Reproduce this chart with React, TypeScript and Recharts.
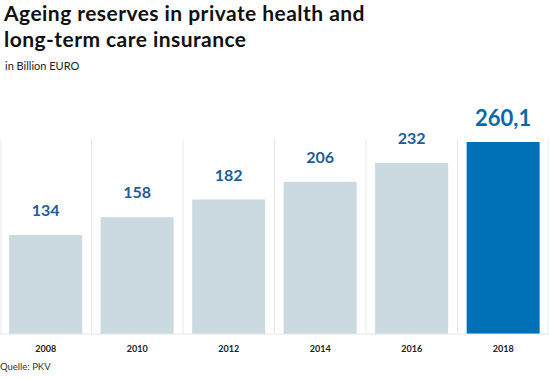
import React from 'react';
import { BarChart, Bar, XAxis, YAxis, CartesianGrid, Cell, LabelList } from 'recharts';

const years = ['2008', '2010', '2012', '2014', '2016', '2018'];
const reserves = [134, 158, 182, 206, 232, 260.1];
const highlightYear = '2018';
const titleLines = ['Ageing reserves in private health and', 'long-term care insurance'];
const subtitle = 'in Billion EURO';
const source = 'Quelle: PKV';

const data = years.map((year, i) => ({ year, value: reserves[i] }));

const W = 549;
const H = 379;
const FONT = 'Lato, "Open Sans", sans-serif';

const fmt = (v: number) => String(v).replace('.', ',');

const BarLabel = (props: any) => {
  const { x, y, width, value, index } = props;
  const isHi = data[index] && data[index].year === highlightYear;
  const fs = isHi ? 22 : 16;
  const off = isHi ? 16 : 19;
  return (
    <text
      x={x + width / 2}
      y={y - off}
      textAnchor="middle"
      fontFamily={FONT}
      fontWeight={700}
      fontSize={fs}
      fill={isHi ? '#0b68a8' : '#1f5d98'}
    >
      {fmt(value)}
    </text>
  );
};

export default function App() {
  return (
    <div style={{ position: 'absolute', left: 0, top: 0, width: W, height: H, background: '#fff', fontFamily: FONT }}>
      <div
        style={{
          position: 'absolute',
          left: 4,
          top: 0,
          fontSize: 21,
          lineHeight: '26px',
          fontWeight: 700,
          letterSpacing: 0.45,
          color: '#111',
          whiteSpace: 'nowrap',
        }}
      >
        {titleLines.map((l) => (
          <div key={l}>{l}</div>
        ))}
      </div>
      <div style={{ position: 'absolute', left: 5, top: 59, fontSize: 11, lineHeight: '14px', color: '#222' }}>
        {subtitle}
      </div>
      <div style={{ position: 'absolute', left: 0, top: 361, fontSize: 9.5, lineHeight: '12px', color: '#333' }}>
        {source}
      </div>
      <div style={{ position: 'absolute', left: 0, top: 0 }}>
        <BarChart
          width={W}
          height={H}
          data={data}
          margin={{ top: 139, right: 0, bottom: 15, left: 0 }}
          barCategoryGap="10%"
        >
          <CartesianGrid
            horizontal={false}
            stroke="#e6e9ec"
            verticalCoordinatesGenerator={({ offset }: any) =>
              years
                .map((_, i) => offset.left + (i * offset.width) / years.length)
                .concat([offset.left + offset.width - 1])
                .map((v, i) => (i === 0 ? v + 1 : v))
            }
          />
          <YAxis hide domain={[0, 264]} />
          <XAxis
            dataKey="year"
            height={30}
            axisLine={{ stroke: '#e3e6e9' }}
            tickLine={false}
            tickMargin={6}
            tick={{ fontSize: 9, fontWeight: 700, fill: '#222', fontFamily: FONT }}
            interval={0}
          />
          <Bar dataKey="value" isAnimationActive={false}>
            {data.map((d) => (
              <Cell key={d.year} fill={d.year === highlightYear ? '#0071b6' : '#cbd9e1'} />
            ))}
            <LabelList dataKey="value" content={BarLabel} />
          </Bar>
        </BarChart>
      </div>
    </div>
  );
}
